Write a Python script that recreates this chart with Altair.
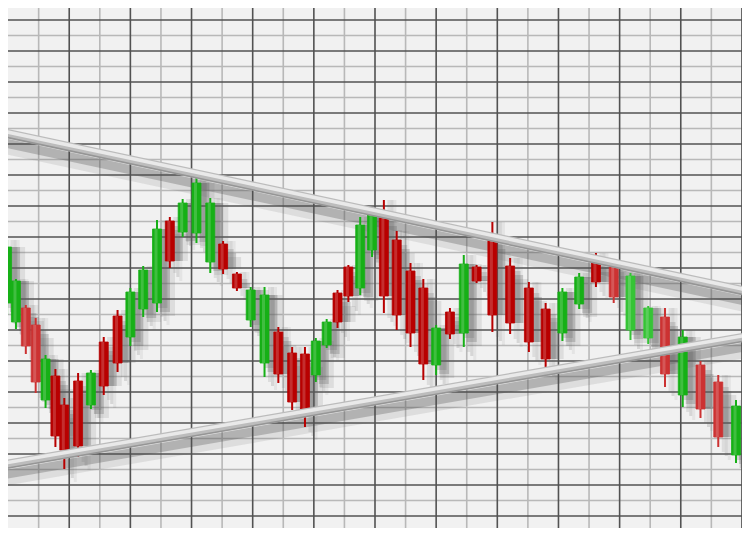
import altair as alt
import pandas as pd

# ---- candle data (time position, prices) ----
times = [2, 11, 21, 31, 41, 51, 60, 74, 87, 100, 114, 127, 140, 154, 167, 180, 194, 208,
         221, 235, 249, 263, 277, 291, 304, 315, 326, 337, 348, 360, 372, 384, 397, 411,
         424, 437, 451, 465, 478, 494, 512, 531, 548, 565, 582, 599, 617, 634, 652, 669,
         687, 705, 723, 741]
opens = [233, 214, 228, 211, 136, 160, 131, 155, 131, 194, 220, 199, 227, 233, 315, 304, 303, 274,
         292, 262, 216, 173, 204, 183, 182, 161, 191, 243, 269, 248, 286, 319, 296, 265,
         248, 171, 224, 203, 269, 296, 270, 248, 227, 203, 232, 273, 269, 206, 198, 219,
         141, 171, 154, 81]
highs = [296, 257, 231, 218, 181, 167, 138, 163, 166, 199, 226, 248, 270, 316, 319, 337, 358, 338,
         295, 264, 249, 249, 209, 189, 189, 198, 217, 246, 271, 319, 323, 336, 305, 273,
         257, 211, 228, 281, 271, 314, 278, 254, 233, 248, 263, 283, 271, 263, 230, 228,
         206, 175, 161, 136]
lows = [221, 207, 182, 143, 128, 89, 67, 79, 127, 141, 164, 190, 219, 224, 268, 299, 293, 263,
        262, 245, 209, 159, 153, 126, 109, 154, 188, 208, 234, 241, 279, 223, 206, 189,
        156, 161, 197, 189, 253, 204, 202, 184, 169, 195, 227, 249, 233, 196, 192, 149,
        129, 118, 89, 73]
closes = [289, 255, 190, 154, 177, 100, 86, 90, 163, 150, 173, 244, 266, 307, 275, 333, 353, 333,
          267, 248, 246, 241, 162, 134, 127, 195, 214, 214, 240, 311, 321, 240, 221, 203,
          172, 208, 202, 272, 255, 221, 213, 194, 177, 244, 259, 254, 239, 260, 228, 162,
          199, 127, 99, 130]
faded = [0, 0, 1, 1, 0, 0, 0, 0, 0, 0, 0, 0, 0, 0, 0, 0, 0, 0,
         0, 0, 0, 0, 0, 0, 0, 0, 0, 0, 0, 0, 0, 0, 0, 0,
         0, 0, 0, 0, 0, 0, 0, 0, 0, 0, 0, 0, 1, 1, 1, 1,
         0, 1, 1, 0]

# ---- trend lines (time, price) ----
upper_t = [0, 750]
upper_p = [403, 245]
lower_t = [0, 750]
lower_p = [71.5, 199]

# ---- grid positions ----
grid_major_t = [65, 127, 189, 251, 313, 375, 437, 499, 561, 623, 685, 747]
grid_minor_t = [34, 96, 158, 220, 282, 344, 406, 468, 530, 592, 654, 716]
grid_major_p = [516, 485, 454, 423, 392, 361, 330, 299, 268, 237, 206, 175, 144, 113, 82, 51, 20]
grid_minor_p = [500.5, 469.5, 438.5, 407.5, 376.5, 345.5, 314.5, 283.5, 252.5, 221.5, 190.5,
                159.5, 128.5, 97.5, 66.5, 35.5, 4.5]

keys = []
for o, c, f in zip(opens, closes, faded):
    k = "up" if c >= o else "down"
    keys.append(k + ("_light" if f else ""))

candles = pd.DataFrame({"t": times, "open": opens, "high": highs, "low": lows,
                        "close": closes, "key": keys})
trend = pd.DataFrame({"t": upper_t + lower_t, "p": upper_p + lower_p,
                      "line": ["upper", "upper", "lower", "lower"]})

xs = alt.Scale(domain=[8, 742], nice=False, zero=False)
ys = alt.Scale(domain=[8, 528], nice=False, zero=False)
X = alt.X("t:Q", scale=xs, axis=None)

key_dom = ["up", "up_light", "down", "down_light"]
fill_rng = ["#22cf22", "#52e252", "#dc0a0a", "#ea5050"]
edge_rng = ["#16b016", "#36c436", "#b80000", "#cc3232"]
fill_col = alt.Color("key:N", scale=alt.Scale(domain=key_dom, range=fill_rng), legend=None)
edge_col = alt.Color("key:N", scale=alt.Scale(domain=key_dom, range=edge_rng), legend=None)


def vgrid(vals, color):
    return alt.Chart(pd.DataFrame({"t": vals})).mark_rule(
        color=color, strokeWidth=1.6, clip=True).encode(x=X)


def hgrid(vals, color):
    return alt.Chart(pd.DataFrame({"p": vals})).mark_rule(
        color=color, strokeWidth=1.6, clip=True).encode(y=alt.Y("p:Q", scale=ys, axis=None))


grid = alt.layer(
    vgrid(grid_minor_t, "#b8b8b8"), hgrid(grid_minor_p, "#b8b8b8"),
    vgrid(grid_major_t, "#525252"), hgrid(grid_major_p, "#525252"),
)

base = alt.Chart(candles)
shadows = []
for dx, dy, sz, op in [(5, 5, 11, 0.2), (8, 9, 10, 0.26), (11, 13, 14, 0.13)]:
    shadows.append(base.mark_bar(size=sz, color="#606060", opacity=op, xOffset=dx,
                                 yOffset=dy, clip=True).encode(
        x=X, y=alt.Y("open:Q", scale=ys, axis=None), y2="close:Q"))
    shadows.append(base.mark_rule(strokeWidth=3, color="#606060", opacity=op * 0.7,
                                  xOffset=dx, yOffset=dy, clip=True).encode(
        x=X, y=alt.Y("low:Q", scale=ys, axis=None), y2="high:Q"))

tline = alt.Chart(trend)
TY = alt.Y("p:Q", scale=ys, axis=None)
trend_shadow = alt.layer(
    tline.mark_line(color="#505050", strokeWidth=18, opacity=0.12, yOffset=12,
                    strokeCap="butt", clip=True).encode(x=X, y=TY, detail="line:N"),
    tline.mark_line(color="#505050", strokeWidth=9, opacity=0.3, yOffset=10,
                    strokeCap="butt", clip=True).encode(x=X, y=TY, detail="line:N"),
)

wicks = base.mark_rule(strokeWidth=2, clip=True).encode(
    x=X, y=alt.Y("low:Q", scale=ys, axis=None), y2="high:Q", color=edge_col)
bodies = base.mark_bar(size=9, strokeWidth=0.8, clip=True).encode(
    x=X, y=alt.Y("open:Q", scale=ys, axis=None), y2="close:Q", color=fill_col,
    stroke=edge_col)
shine = base.mark_bar(size=3, color="white", opacity=0.18, xOffset=-1, clip=True).encode(
    x=X, y=alt.Y("open:Q", scale=ys, axis=None), y2="close:Q")

rods = alt.layer(
    tline.mark_line(color="#bcbcbc", strokeWidth=9, strokeCap="butt", clip=True).encode(
        x=X, y=TY, detail="line:N"),
    tline.mark_line(color="#959595", strokeWidth=1.5, yOffset=4, strokeCap="butt",
                    clip=True).encode(x=X, y=TY, detail="line:N"),
    tline.mark_line(color="#e9e9e9", strokeWidth=3.5, yOffset=-1.5, strokeCap="butt",
                    clip=True).encode(x=X, y=TY, detail="line:N"),
)

chart = alt.layer(grid, trend_shadow, *shadows, wicks, bodies, shine, rods).properties(
    width=734, height=520, padding=0, autosize="none", background="#f1f1f1"
).configure_view(stroke=None, fill="#f1f1f1")

chart.save("out.html", embed_options={"renderer": "svg", "actions": False})
